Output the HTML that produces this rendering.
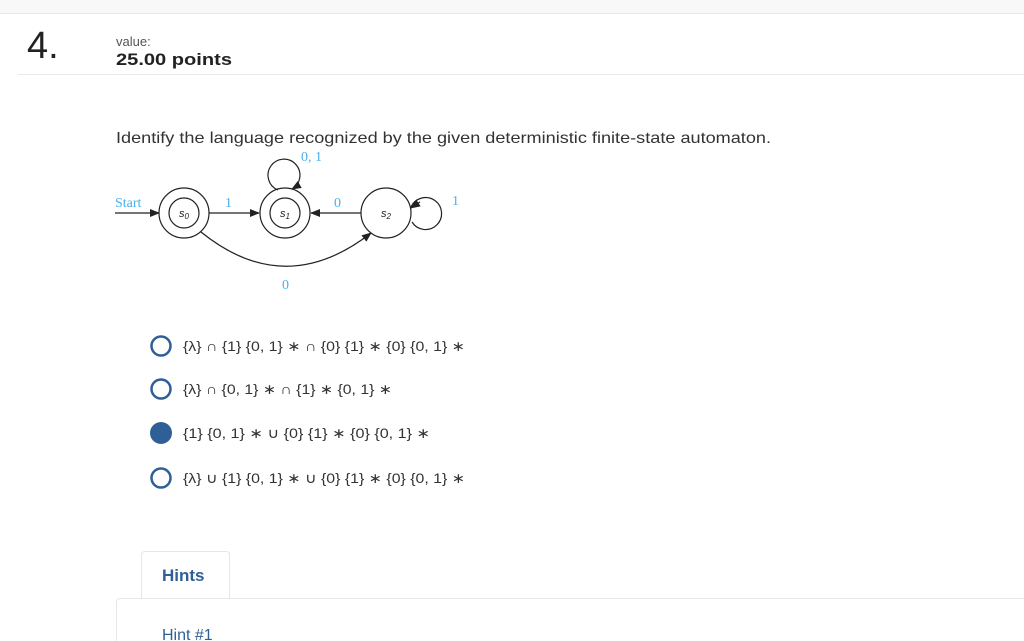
<!DOCTYPE html>
<html><head><meta charset="utf-8"><style>
html,body{margin:0;padding:0;background:#fff;}
svg{display:block;}
text{font-family:"Liberation Sans",sans-serif;}
.s{font-family:"Liberation Serif",serif;fill:#4ab0e8;font-size:14px;}
.o{font-size:14px;fill:#333;}
</style></head><body>
<svg width="1024" height="641" viewBox="0 0 1024 641" xmlns="http://www.w3.org/2000/svg">
<defs><marker id="a" markerWidth="10" markerHeight="8" refX="9" refY="4" orient="auto" markerUnits="userSpaceOnUse"><path d="M0,0 L10,4 L0,8 z" fill="#222"/></marker></defs>
<rect x="0" y="0" width="1024" height="13" fill="#f8f8f8"/>
<line x1="0" y1="13.5" x2="1024" y2="13.5" stroke="#e6e6e6"/>
<line x1="18" y1="74.5" x2="1024" y2="74.5" stroke="#e8e8e8"/>
<text x="27" y="58" font-size="38" fill="#222">4.</text>
<text x="116" y="46" font-size="13" fill="#555">value:</text>
<text x="116" y="65" font-size="17" fill="#222" font-weight="bold" textLength="116" lengthAdjust="spacingAndGlyphs">25.00 points</text>
<text x="116" y="143" font-size="16" fill="#333" textLength="655" lengthAdjust="spacingAndGlyphs">Identify the language recognized by the given deterministic finite-state automaton.</text>
<g stroke="#222" stroke-width="1.2" fill="none">
<line x1="115" y1="213" x2="159" y2="213" marker-end="url(#a)"/>
<circle cx="184" cy="213" r="25"/><circle cx="184" cy="213" r="15"/>
<circle cx="285" cy="213" r="25"/><circle cx="285" cy="213" r="15"/>
<circle cx="386" cy="213" r="25"/>
<line x1="209" y1="213" x2="259" y2="213" marker-end="url(#a)"/>
<line x1="361" y1="213" x2="311" y2="213" marker-end="url(#a)"/>
<path d="M201,232 Q285,300 371,233" marker-end="url(#a)"/>
<path d="M278,190 A16,16 0 1 1 292,189" marker-end="url(#a)"/>
<path d="M411,207 A16,16 0 1 1 412,222" />
<path d="M420,202 L411,208" marker-end="url(#a)"/>
</g>
<text class="s" x="115" y="207">Start</text>
<text class="s" x="225" y="207">1</text>
<text class="s" x="334" y="207">0</text>
<text class="s" x="452" y="205">1</text>
<text class="s" x="301" y="161">0, 1</text>
<text class="s" x="282" y="289">0</text>
<text x="179" y="217" font-family="Liberation Serif" font-style="italic" font-size="11" fill="#222">s<tspan font-size="8" dy="2">0</tspan></text>
<text x="280" y="217" font-family="Liberation Serif" font-style="italic" font-size="11" fill="#222">s<tspan font-size="8" dy="2">1</tspan></text>
<text x="381" y="217" font-family="Liberation Serif" font-style="italic" font-size="11" fill="#222">s<tspan font-size="8" dy="2">2</tspan></text>
<g fill="none" stroke="#2f5f96" stroke-width="2.5">
<circle cx="161" cy="346" r="9.5"/><circle cx="161" cy="389" r="9.5"/><circle cx="161" cy="478" r="9.5"/>
</g>
<circle cx="161" cy="433" r="11" fill="#2f5f96"/>
<text class="o" x="183" y="351" textLength="282" lengthAdjust="spacingAndGlyphs">{λ} ∩ {1} {0, 1} ∗ ∩ {0} {1} ∗ {0} {0, 1} ∗</text>
<text class="o" x="183" y="394" textLength="209" lengthAdjust="spacingAndGlyphs">{λ} ∩ {0, 1} ∗ ∩ {1} ∗ {0, 1} ∗</text>
<text class="o" x="183" y="438" textLength="247" lengthAdjust="spacingAndGlyphs">{1} {0, 1} ∗ ∪ {0} {1} ∗ {0} {0, 1} ∗</text>
<text class="o" x="183" y="483" textLength="282" lengthAdjust="spacingAndGlyphs">{λ} ∪ {1} {0, 1} ∗ ∪ {0} {1} ∗ {0} {0, 1} ∗</text>
<path d="M116.5,641 L116.5,602 Q116.5,598.5 120,598.5 L1024,598.5" fill="none" stroke="#e6e6e6"/>
<path d="M141.5,598 L141.5,555 Q141.5,551.5 145,551.5 L226,551.5 Q229.5,551.5 229.5,555 L229.5,598" fill="#fff" stroke="#e6e6e6"/>
<text x="162" y="581" font-size="17" font-weight="bold" fill="#2f5f96">Hints</text>
<text x="162" y="640" font-size="16" fill="#2f5f96">Hint #1</text>
</svg>
</body></html>
